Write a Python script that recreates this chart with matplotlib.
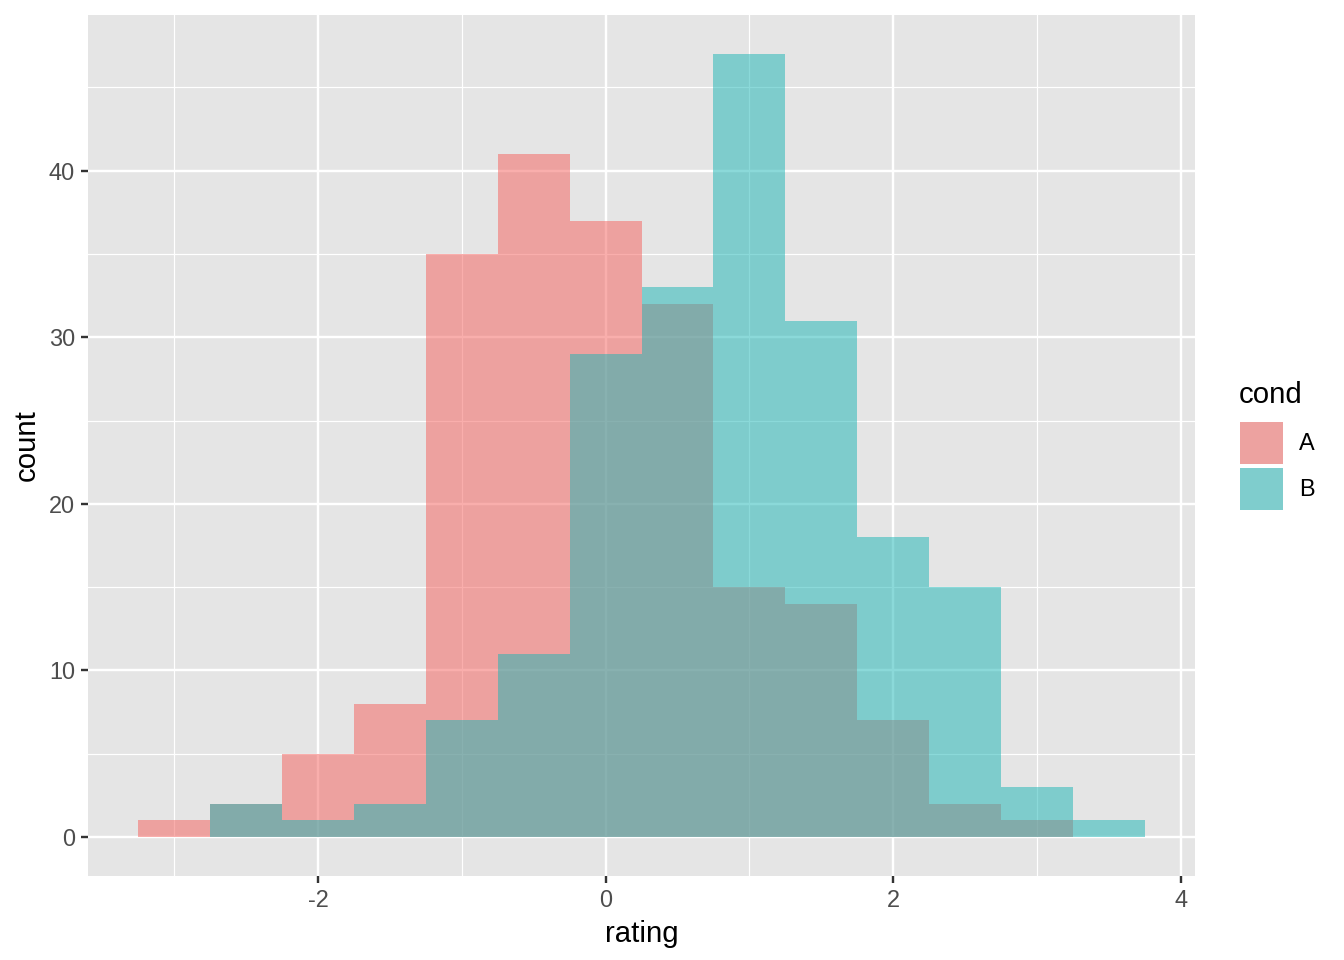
import matplotlib
matplotlib.use("Agg")
import matplotlib.pyplot as plt
from matplotlib.patches import Rectangle
import numpy as np

bin_edges_left = [-3.25, -2.75, -2.25, -1.75, -1.25, -0.75, -0.25, 0.25, 0.75, 1.25, 1.75, 2.25, 2.75, 3.25]
counts_A = [1, 2, 5, 8, 35, 41, 37, 32, 15, 14, 7, 2, 1, 0]
counts_B = [0, 2, 1, 2, 7, 11, 29, 33, 47, 31, 18, 15, 3, 1]
groups = ["A", "B"]
colors = ["#F55F5B", "#19B5B5"]
legend_colors = ["#EDA2A0", "#7FCDCD"]
bin_width = 0.5
x_ticks = [-2, 0, 2, 4]
y_ticks = [0, 10, 20, 30, 40]

plt.rcParams['font.family'] = ['Liberation Sans', 'DejaVu Sans']

W, H = 1344, 960
fig = plt.figure(figsize=(7, 5), dpi=192)
ax = fig.add_axes([88/W, (H - 876)/H, (1195-88)/W, (876-15)/H])
ax.set_facecolor("#E5E5E5")

ax.set_xlim(-3.6, 4.1)
ax.set_ylim(-2.35, 49.35)

for v in [-3, -1, 1, 3]:
    ax.axvline(v, color="white", lw=0.45, zorder=0.5)
for v in [5, 15, 25, 35, 45]:
    ax.axhline(v, color="white", lw=0.45, zorder=0.5)
for v in x_ticks:
    ax.axvline(v, color="white", lw=0.9, zorder=0.6)
for v in y_ticks:
    ax.axhline(v, color="white", lw=0.9, zorder=0.6)

for counts, col in zip([counts_A, counts_B], colors):
    ax.bar(bin_edges_left, counts, width=bin_width, align='edge', color=col,
           alpha=0.5, linewidth=0, zorder=1)

ax.set_xticks(x_ticks)
ax.set_xticklabels([str(t) for t in x_ticks])
ax.set_yticks(y_ticks)
ax.set_yticklabels([str(t) for t in y_ticks])
ax.tick_params(axis='both', length=2.75, width=0.9, color="#333333",
               labelcolor="#4D4D4D", labelsize=8.8, pad=2.2)
for s in ax.spines.values():
    s.set_visible(False)

ax.set_xlabel("rating", fontsize=11, color="black", labelpad=3)
ax.set_ylabel("count", fontsize=11, color="black", labelpad=3)

# legend drawn manually
fig.text(1239/W, 1 - 403/H, "cond", fontsize=11, color="black",
         ha="left", va="baseline")
key_tops = [422, 468]
for top, lc, lab in zip(key_tops, legend_colors, groups):
    fig.add_artist(Rectangle((1240/W, 1 - (top + 42)/H), 43/W, 42/H,
                             transform=fig.transFigure, facecolor=lc,
                             edgecolor='none'))
    fig.text(1299/W, 1 - (top + 21)/H, lab, fontsize=8.8, color="black",
             ha="left", va="center")

fig.savefig("out.png", dpi=192, facecolor="white")
